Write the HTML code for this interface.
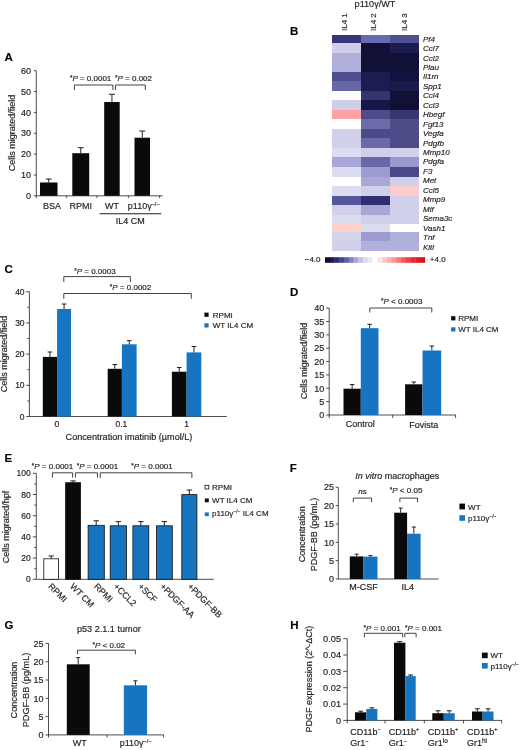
<!DOCTYPE html>
<html><head><meta charset="utf-8"><title>Figure</title>
<style>
html,body{margin:0;padding:0;background:#fff;}
svg{display:block;font-family:"Liberation Sans",Arial,Helvetica,sans-serif;fill:#231f20;}
text{stroke:#231f20;stroke-width:0.18px;}
</style></head><body>
<svg width="520" height="750" viewBox="0 0 520 750">
<rect x="0" y="0" width="520" height="750" fill="#ffffff"/>
<text x="4.50" y="60.50" font-size="11.5" font-weight="bold" fill="#000">A</text>
<line x1="36.30" y1="70.70" x2="36.30" y2="195.80" stroke="#231f20" stroke-width="0.8"/>
<line x1="33.90" y1="195.80" x2="36.30" y2="195.80" stroke="#231f20" stroke-width="0.8"/>
<text x="31.10" y="199.04" font-size="9" text-anchor="end">0</text>
<line x1="33.90" y1="174.95" x2="36.30" y2="174.95" stroke="#231f20" stroke-width="0.8"/>
<text x="31.10" y="178.19" font-size="9" text-anchor="end">10</text>
<line x1="33.90" y1="154.10" x2="36.30" y2="154.10" stroke="#231f20" stroke-width="0.8"/>
<text x="31.10" y="157.34" font-size="9" text-anchor="end">20</text>
<line x1="33.90" y1="133.25" x2="36.30" y2="133.25" stroke="#231f20" stroke-width="0.8"/>
<text x="31.10" y="136.49" font-size="9" text-anchor="end">30</text>
<line x1="33.90" y1="112.40" x2="36.30" y2="112.40" stroke="#231f20" stroke-width="0.8"/>
<text x="31.10" y="115.64" font-size="9" text-anchor="end">40</text>
<line x1="33.90" y1="91.55" x2="36.30" y2="91.55" stroke="#231f20" stroke-width="0.8"/>
<text x="31.10" y="94.79" font-size="9" text-anchor="end">50</text>
<line x1="33.90" y1="70.70" x2="36.30" y2="70.70" stroke="#231f20" stroke-width="0.8"/>
<text x="31.10" y="73.94" font-size="9" text-anchor="end">60</text>
<line x1="36.30" y1="195.80" x2="162.60" y2="195.80" stroke="#231f20" stroke-width="0.8"/>
<line x1="36.30" y1="195.80" x2="36.30" y2="198.10" stroke="#231f20" stroke-width="0.8"/>
<line x1="66.70" y1="195.80" x2="66.70" y2="198.10" stroke="#231f20" stroke-width="0.8"/>
<line x1="97.00" y1="195.80" x2="97.00" y2="198.10" stroke="#231f20" stroke-width="0.8"/>
<line x1="128.40" y1="195.80" x2="128.40" y2="198.10" stroke="#231f20" stroke-width="0.8"/>
<line x1="159.60" y1="195.80" x2="159.60" y2="198.10" stroke="#231f20" stroke-width="0.8"/>
<rect x="40.00" y="182.50" width="17.50" height="13.30" fill="#0a0a0a"/>
<line x1="48.75" y1="182.50" x2="48.75" y2="179.00" stroke="#0a0a0a" stroke-width="0.9"/>
<line x1="45.75" y1="179.00" x2="51.75" y2="179.00" stroke="#0a0a0a" stroke-width="0.9"/>
<rect x="72.30" y="153.20" width="16.90" height="42.60" fill="#0a0a0a"/>
<line x1="80.75" y1="153.20" x2="80.75" y2="147.70" stroke="#0a0a0a" stroke-width="0.9"/>
<line x1="77.75" y1="147.70" x2="83.75" y2="147.70" stroke="#0a0a0a" stroke-width="0.9"/>
<rect x="104.20" y="102.00" width="15.50" height="93.80" fill="#0a0a0a"/>
<line x1="111.95" y1="102.00" x2="111.95" y2="94.30" stroke="#0a0a0a" stroke-width="0.9"/>
<line x1="108.95" y1="94.30" x2="114.95" y2="94.30" stroke="#0a0a0a" stroke-width="0.9"/>
<rect x="134.50" y="137.70" width="15.50" height="58.10" fill="#0a0a0a"/>
<line x1="142.25" y1="137.70" x2="142.25" y2="131.00" stroke="#0a0a0a" stroke-width="0.9"/>
<line x1="139.25" y1="131.00" x2="145.25" y2="131.00" stroke="#0a0a0a" stroke-width="0.9"/>
<text x="15.20" y="133.00" font-size="9" text-anchor="middle" transform="rotate(-90 15.20 133.00)">Cells migrated/field</text>
<text x="52.00" y="208.50" font-size="9" text-anchor="middle">BSA</text>
<text x="80.80" y="208.50" font-size="9" text-anchor="middle">RPMI</text>
<text x="112.00" y="208.50" font-size="9" text-anchor="middle">WT</text>
<text x="127.80" y="208.50" font-size="9">p110γ<tspan font-size="5.5" dy="-3">−/−</tspan></text>
<line x1="99.60" y1="213.80" x2="161.30" y2="213.80" stroke="#231f20" stroke-width="1.1"/>
<text x="130.20" y="224.30" font-size="9" text-anchor="middle">IL4 CM</text>
<text x="69.90" y="80.50" font-size="8"><tspan font-size="6.4" dy="-1">*</tspan><tspan font-style="italic" dy="1">P</tspan> = 0.0001</text>
<text x="115.00" y="80.50" font-size="8"><tspan font-size="6.4" dy="-1">*</tspan><tspan font-style="italic" dy="1">P</tspan> = 0.002</text>
<polyline points="74.40,90.00 74.40,85.00 112.90,85.00 112.90,90.00" fill="none" stroke="#231f20" stroke-width="0.85"/>
<polyline points="115.40,90.00 115.40,85.00 145.30,85.00 145.30,90.00" fill="none" stroke="#231f20" stroke-width="0.85"/>
<text x="290.00" y="34.60" font-size="11.5" font-weight="bold" fill="#000">B</text>
<text x="375.00" y="7.20" font-size="9.1" text-anchor="middle">p110γ/WT</text>
<text x="346.50" y="31.00" font-size="8" transform="rotate(-90 346.50 31.00)">IL4 1</text>
<text x="375.50" y="31.00" font-size="8" transform="rotate(-90 375.50 31.00)">IL4 2</text>
<text x="407.00" y="31.00" font-size="8" transform="rotate(-90 407.00 31.00)">IL4 3</text>
<g shape-rendering="crispEdges">
<rect x="331.80" y="35.30" width="29.50" height="8.10" fill="#363678"/>
<rect x="361.00" y="35.30" width="29.50" height="8.10" fill="#6a6aae"/>
<rect x="390.20" y="35.30" width="29.10" height="8.10" fill="#50508e"/>
<rect x="331.80" y="43.10" width="29.50" height="9.83" fill="#cfcfec"/>
<rect x="361.00" y="43.10" width="29.50" height="9.83" fill="#111138"/>
<rect x="390.20" y="43.10" width="29.10" height="9.83" fill="#1c1c50"/>
<rect x="331.80" y="52.63" width="29.50" height="9.83" fill="#b0b0dc"/>
<rect x="361.00" y="52.63" width="29.50" height="9.83" fill="#111138"/>
<rect x="390.20" y="52.63" width="29.10" height="9.83" fill="#111138"/>
<rect x="331.80" y="62.16" width="29.50" height="9.83" fill="#b0b0dc"/>
<rect x="361.00" y="62.16" width="29.50" height="9.83" fill="#111138"/>
<rect x="390.20" y="62.16" width="29.10" height="9.83" fill="#111138"/>
<rect x="331.80" y="71.69" width="29.50" height="9.83" fill="#4e4e8c"/>
<rect x="361.00" y="71.69" width="29.50" height="9.83" fill="#1c1c50"/>
<rect x="390.20" y="71.69" width="29.10" height="9.83" fill="#121240"/>
<rect x="331.80" y="81.22" width="29.50" height="9.83" fill="#6868a8"/>
<rect x="361.00" y="81.22" width="29.50" height="9.83" fill="#1c1c50"/>
<rect x="390.20" y="81.22" width="29.10" height="9.83" fill="#1a1a4c"/>
<rect x="331.80" y="90.75" width="29.50" height="9.83" fill="#ffffff"/>
<rect x="361.00" y="90.75" width="29.50" height="9.83" fill="#34346e"/>
<rect x="390.20" y="90.75" width="29.10" height="9.83" fill="#121238"/>
<rect x="331.80" y="100.28" width="29.50" height="9.83" fill="#cfcfe8"/>
<rect x="361.00" y="100.28" width="29.50" height="9.83" fill="#181848"/>
<rect x="390.20" y="100.28" width="29.10" height="9.83" fill="#111138"/>
<rect x="331.80" y="109.81" width="29.50" height="9.83" fill="#ffa0a4"/>
<rect x="361.00" y="109.81" width="29.50" height="9.83" fill="#4c4c88"/>
<rect x="390.20" y="109.81" width="29.10" height="9.83" fill="#363670"/>
<rect x="331.80" y="119.34" width="29.50" height="9.83" fill="#ffffff"/>
<rect x="361.00" y="119.34" width="29.50" height="9.83" fill="#6c6cac"/>
<rect x="390.20" y="119.34" width="29.10" height="9.83" fill="#4c4c88"/>
<rect x="331.80" y="128.87" width="29.50" height="9.83" fill="#d0d0ea"/>
<rect x="361.00" y="128.87" width="29.50" height="9.83" fill="#4a4a88"/>
<rect x="390.20" y="128.87" width="29.10" height="9.83" fill="#4c4c88"/>
<rect x="331.80" y="138.40" width="29.50" height="9.83" fill="#d0d0ea"/>
<rect x="361.00" y="138.40" width="29.50" height="9.83" fill="#6a6aa8"/>
<rect x="390.20" y="138.40" width="29.10" height="9.83" fill="#4c4c88"/>
<rect x="331.80" y="147.93" width="29.50" height="9.83" fill="#dcdcf0"/>
<rect x="361.00" y="147.93" width="29.50" height="9.83" fill="#d0d0ea"/>
<rect x="390.20" y="147.93" width="29.10" height="9.83" fill="#d0d0ea"/>
<rect x="331.80" y="157.46" width="29.50" height="9.83" fill="#a8a8d8"/>
<rect x="361.00" y="157.46" width="29.50" height="9.83" fill="#6868a8"/>
<rect x="390.20" y="157.46" width="29.10" height="9.83" fill="#9898cc"/>
<rect x="331.80" y="166.99" width="29.50" height="9.83" fill="#dcdcf0"/>
<rect x="361.00" y="166.99" width="29.50" height="9.83" fill="#9c9cd0"/>
<rect x="390.20" y="166.99" width="29.10" height="9.83" fill="#4a4a88"/>
<rect x="331.80" y="176.52" width="29.50" height="9.83" fill="#ffffff"/>
<rect x="361.00" y="176.52" width="29.50" height="9.83" fill="#a8a8d4"/>
<rect x="390.20" y="176.52" width="29.10" height="9.83" fill="#d0d0ea"/>
<rect x="331.80" y="186.05" width="29.50" height="9.83" fill="#dcdcf0"/>
<rect x="361.00" y="186.05" width="29.50" height="9.83" fill="#d0d0ea"/>
<rect x="390.20" y="186.05" width="29.10" height="9.83" fill="#fccccc"/>
<rect x="331.80" y="195.58" width="29.50" height="9.83" fill="#55559a"/>
<rect x="361.00" y="195.58" width="29.50" height="9.83" fill="#2e2e70"/>
<rect x="390.20" y="195.58" width="29.10" height="9.83" fill="#d0d0ea"/>
<rect x="331.80" y="205.11" width="29.50" height="9.83" fill="#d0d0ea"/>
<rect x="361.00" y="205.11" width="29.50" height="9.83" fill="#a8a8d4"/>
<rect x="390.20" y="205.11" width="29.10" height="9.83" fill="#d0d0ea"/>
<rect x="331.80" y="214.64" width="29.50" height="9.83" fill="#dcdcf0"/>
<rect x="361.00" y="214.64" width="29.50" height="9.83" fill="#d0d0ea"/>
<rect x="390.20" y="214.64" width="29.10" height="9.83" fill="#d0d0ea"/>
<rect x="331.80" y="224.17" width="29.50" height="8.33" fill="#fdd0cc"/>
<rect x="361.00" y="224.17" width="29.50" height="8.33" fill="#dcdcf0"/>
<rect x="390.20" y="224.17" width="29.10" height="8.33" fill="#ffffff"/>
<rect x="331.80" y="232.20" width="29.50" height="9.40" fill="#d4d4ec"/>
<rect x="361.00" y="232.20" width="29.50" height="9.40" fill="#9c9cd0"/>
<rect x="390.20" y="232.20" width="29.10" height="9.40" fill="#b0b0dc"/>
<rect x="331.80" y="241.30" width="29.50" height="9.80" fill="#d0d0ea"/>
<rect x="361.00" y="241.30" width="29.50" height="9.80" fill="#b0b0dc"/>
<rect x="390.20" y="241.30" width="29.10" height="9.80" fill="#b0b0dc"/>
</g>
<text x="423.00" y="41.60" font-size="8" font-style="italic">Pf4</text>
<text x="423.00" y="51.05" font-size="8" font-style="italic">Ccl7</text>
<text x="423.00" y="60.50" font-size="8" font-style="italic">Ccl2</text>
<text x="423.00" y="69.95" font-size="8" font-style="italic">Plau</text>
<text x="423.00" y="79.40" font-size="8" font-style="italic">Il1rn</text>
<text x="423.00" y="88.85" font-size="8" font-style="italic">Spp1</text>
<text x="423.00" y="98.30" font-size="8" font-style="italic">Ccl4</text>
<text x="423.00" y="107.75" font-size="8" font-style="italic">Ccl3</text>
<text x="423.00" y="117.20" font-size="8" font-style="italic">Hbegf</text>
<text x="423.00" y="126.65" font-size="8" font-style="italic">Fgf13</text>
<text x="423.00" y="136.10" font-size="8" font-style="italic">Vegfa</text>
<text x="423.00" y="145.55" font-size="8" font-style="italic">Pdgfb</text>
<text x="423.00" y="155.00" font-size="8" font-style="italic">Mmp10</text>
<text x="423.00" y="164.45" font-size="8" font-style="italic">Pdgfa</text>
<text x="423.00" y="173.90" font-size="8" font-style="italic">F3</text>
<text x="423.00" y="183.35" font-size="8" font-style="italic">Met</text>
<text x="423.00" y="192.80" font-size="8" font-style="italic">Ccl5</text>
<text x="423.00" y="202.25" font-size="8" font-style="italic">Mmp9</text>
<text x="423.00" y="211.70" font-size="8" font-style="italic">Mif</text>
<text x="423.00" y="221.15" font-size="8" font-style="italic">Sema3c</text>
<text x="423.00" y="230.60" font-size="8" font-style="italic">Vash1</text>
<text x="423.00" y="240.05" font-size="8" font-style="italic">Tnf</text>
<text x="423.00" y="249.50" font-size="8" font-style="italic">Kitl</text>
<rect x="325.00" y="257.20" width="5.05" height="5.60" fill="#0e0e38"/>
<rect x="329.75" y="257.20" width="5.05" height="5.60" fill="#1c1c50"/>
<rect x="334.50" y="257.20" width="5.05" height="5.60" fill="#2e2e6a"/>
<rect x="339.26" y="257.20" width="5.05" height="5.60" fill="#454588"/>
<rect x="344.01" y="257.20" width="5.05" height="5.60" fill="#6060a4"/>
<rect x="348.76" y="257.20" width="5.05" height="5.60" fill="#8080c0"/>
<rect x="353.51" y="257.20" width="5.05" height="5.60" fill="#a4a4d6"/>
<rect x="358.27" y="257.20" width="5.05" height="5.60" fill="#c4c4e6"/>
<rect x="363.02" y="257.20" width="5.05" height="5.60" fill="#dadaf0"/>
<rect x="367.77" y="257.20" width="5.05" height="5.60" fill="#ececf8"/>
<rect x="372.52" y="257.20" width="5.05" height="5.60" fill="#ffffff"/>
<rect x="377.28" y="257.20" width="5.05" height="5.60" fill="#ffe4e4"/>
<rect x="382.03" y="257.20" width="5.05" height="5.60" fill="#ffcccc"/>
<rect x="386.78" y="257.20" width="5.05" height="5.60" fill="#ffb0b0"/>
<rect x="391.53" y="257.20" width="5.05" height="5.60" fill="#ff9494"/>
<rect x="396.29" y="257.20" width="5.05" height="5.60" fill="#fb7878"/>
<rect x="401.04" y="257.20" width="5.05" height="5.60" fill="#f65a5c"/>
<rect x="405.79" y="257.20" width="5.05" height="5.60" fill="#f04044"/>
<rect x="410.54" y="257.20" width="5.05" height="5.60" fill="#ea2a30"/>
<rect x="415.30" y="257.20" width="5.05" height="5.60" fill="#e4181e"/>
<rect x="420.05" y="257.20" width="5.05" height="5.60" fill="#e0101a"/>
<text x="320.50" y="262.00" font-size="8" text-anchor="end">−4.0</text>
<text x="429.80" y="262.00" font-size="8">+4.0</text>
<text x="4.50" y="273.00" font-size="11.5" font-weight="bold" fill="#000">C</text>
<line x1="29.40" y1="291.74" x2="29.40" y2="416.50" stroke="#231f20" stroke-width="0.8"/>
<line x1="26.20" y1="416.50" x2="29.40" y2="416.50" stroke="#231f20" stroke-width="0.8"/>
<text x="24.60" y="419.56" font-size="8.5" text-anchor="end">0</text>
<line x1="26.20" y1="385.31" x2="29.40" y2="385.31" stroke="#231f20" stroke-width="0.8"/>
<text x="24.60" y="388.37" font-size="8.5" text-anchor="end">10</text>
<line x1="26.20" y1="354.12" x2="29.40" y2="354.12" stroke="#231f20" stroke-width="0.8"/>
<text x="24.60" y="357.18" font-size="8.5" text-anchor="end">20</text>
<line x1="26.20" y1="322.93" x2="29.40" y2="322.93" stroke="#231f20" stroke-width="0.8"/>
<text x="24.60" y="325.99" font-size="8.5" text-anchor="end">30</text>
<line x1="26.20" y1="291.74" x2="29.40" y2="291.74" stroke="#231f20" stroke-width="0.8"/>
<text x="24.60" y="294.80" font-size="8.5" text-anchor="end">40</text>
<line x1="27.40" y1="400.90" x2="29.40" y2="400.90" stroke="#231f20" stroke-width="0.8"/>
<line x1="27.40" y1="369.71" x2="29.40" y2="369.71" stroke="#231f20" stroke-width="0.8"/>
<line x1="27.40" y1="338.52" x2="29.40" y2="338.52" stroke="#231f20" stroke-width="0.8"/>
<line x1="27.40" y1="307.33" x2="29.40" y2="307.33" stroke="#231f20" stroke-width="0.8"/>
<line x1="29.40" y1="416.50" x2="226.80" y2="416.50" stroke="#231f20" stroke-width="0.8"/>
<rect x="42.80" y="356.90" width="14.30" height="59.60" fill="#0a0a0a"/>
<rect x="57.10" y="309.00" width="13.90" height="107.50" fill="#1674c0"/>
<line x1="49.95" y1="356.90" x2="49.95" y2="352.00" stroke="#0a0a0a" stroke-width="0.9"/>
<line x1="47.65" y1="352.00" x2="52.25" y2="352.00" stroke="#0a0a0a" stroke-width="0.9"/>
<line x1="64.05" y1="309.00" x2="64.05" y2="304.00" stroke="#0a0a0a" stroke-width="0.9"/>
<line x1="61.75" y1="304.00" x2="66.35" y2="304.00" stroke="#0a0a0a" stroke-width="0.9"/>
<rect x="107.70" y="368.80" width="14.20" height="47.70" fill="#0a0a0a"/>
<rect x="121.90" y="344.30" width="14.70" height="72.20" fill="#1674c0"/>
<line x1="114.80" y1="368.80" x2="114.80" y2="364.50" stroke="#0a0a0a" stroke-width="0.9"/>
<line x1="112.50" y1="364.50" x2="117.10" y2="364.50" stroke="#0a0a0a" stroke-width="0.9"/>
<line x1="129.25" y1="344.30" x2="129.25" y2="340.60" stroke="#0a0a0a" stroke-width="0.9"/>
<line x1="126.95" y1="340.60" x2="131.55" y2="340.60" stroke="#0a0a0a" stroke-width="0.9"/>
<rect x="171.90" y="371.70" width="14.70" height="44.80" fill="#0a0a0a"/>
<rect x="186.60" y="352.40" width="14.70" height="64.10" fill="#1674c0"/>
<line x1="179.25" y1="371.70" x2="179.25" y2="367.50" stroke="#0a0a0a" stroke-width="0.9"/>
<line x1="176.95" y1="367.50" x2="181.55" y2="367.50" stroke="#0a0a0a" stroke-width="0.9"/>
<line x1="193.95" y1="352.40" x2="193.95" y2="346.50" stroke="#0a0a0a" stroke-width="0.9"/>
<line x1="191.65" y1="346.50" x2="196.25" y2="346.50" stroke="#0a0a0a" stroke-width="0.9"/>
<text x="7.20" y="354.00" font-size="9" text-anchor="middle" transform="rotate(-90 7.20 354.00)">Cells migrated/field</text>
<text x="56.80" y="427.40" font-size="8.5" text-anchor="middle">0</text>
<text x="121.40" y="427.40" font-size="8.5" text-anchor="middle">0.1</text>
<text x="186.60" y="427.40" font-size="8.5" text-anchor="middle">1</text>
<text x="129.00" y="440.30" font-size="9.12" text-anchor="middle">Concentration imatinib (µmol/L)</text>
<text x="74.20" y="273.50" font-size="8"><tspan font-size="6.4" dy="-1">*</tspan><tspan font-style="italic" dy="1">P</tspan> = 0.0003</text>
<text x="109.80" y="289.80" font-size="8"><tspan font-size="6.4" dy="-1">*</tspan><tspan font-style="italic" dy="1">P</tspan> = 0.0002</text>
<polyline points="63.80,282.00 63.80,276.60 130.40,276.60 130.40,282.00" fill="none" stroke="#231f20" stroke-width="0.85"/>
<polyline points="63.80,298.80 63.80,293.50 191.30,293.50 191.30,298.80" fill="none" stroke="#231f20" stroke-width="0.85"/>
<rect x="204.40" y="312.60" width="4.20" height="4.20" fill="#0a0a0a"/>
<rect x="204.40" y="323.30" width="4.20" height="4.20" fill="#1674c0"/>
<text x="212.80" y="317.80" font-size="8">RPMI</text>
<text x="212.80" y="328.30" font-size="8">WT IL4 CM</text>
<text x="290.00" y="295.50" font-size="11.5" font-weight="bold" fill="#000">D</text>
<line x1="329.20" y1="308.12" x2="329.20" y2="415.00" stroke="#231f20" stroke-width="0.8"/>
<line x1="326.20" y1="415.00" x2="329.20" y2="415.00" stroke="#231f20" stroke-width="0.8"/>
<text x="324.20" y="418.24" font-size="9" text-anchor="end">0</text>
<line x1="326.20" y1="401.64" x2="329.20" y2="401.64" stroke="#231f20" stroke-width="0.8"/>
<text x="324.20" y="404.88" font-size="9" text-anchor="end">5</text>
<line x1="326.20" y1="388.28" x2="329.20" y2="388.28" stroke="#231f20" stroke-width="0.8"/>
<text x="324.20" y="391.52" font-size="9" text-anchor="end">10</text>
<line x1="326.20" y1="374.92" x2="329.20" y2="374.92" stroke="#231f20" stroke-width="0.8"/>
<text x="324.20" y="378.16" font-size="9" text-anchor="end">15</text>
<line x1="326.20" y1="361.56" x2="329.20" y2="361.56" stroke="#231f20" stroke-width="0.8"/>
<text x="324.20" y="364.80" font-size="9" text-anchor="end">20</text>
<line x1="326.20" y1="348.20" x2="329.20" y2="348.20" stroke="#231f20" stroke-width="0.8"/>
<text x="324.20" y="351.44" font-size="9" text-anchor="end">25</text>
<line x1="326.20" y1="334.84" x2="329.20" y2="334.84" stroke="#231f20" stroke-width="0.8"/>
<text x="324.20" y="338.08" font-size="9" text-anchor="end">30</text>
<line x1="326.20" y1="321.48" x2="329.20" y2="321.48" stroke="#231f20" stroke-width="0.8"/>
<text x="324.20" y="324.72" font-size="9" text-anchor="end">35</text>
<line x1="326.20" y1="308.12" x2="329.20" y2="308.12" stroke="#231f20" stroke-width="0.8"/>
<text x="324.20" y="311.36" font-size="9" text-anchor="end">40</text>
<line x1="329.20" y1="415.00" x2="455.80" y2="415.00" stroke="#231f20" stroke-width="0.8"/>
<line x1="329.20" y1="415.00" x2="329.20" y2="418.00" stroke="#231f20" stroke-width="0.8"/>
<line x1="392.70" y1="415.00" x2="392.70" y2="418.00" stroke="#231f20" stroke-width="0.8"/>
<line x1="455.60" y1="415.00" x2="455.60" y2="418.00" stroke="#231f20" stroke-width="0.8"/>
<rect x="343.50" y="388.70" width="17.30" height="26.30" fill="#0a0a0a"/>
<rect x="360.80" y="328.20" width="17.70" height="86.80" fill="#1674c0"/>
<line x1="352.15" y1="388.70" x2="352.15" y2="384.50" stroke="#0a0a0a" stroke-width="0.9"/>
<line x1="349.85" y1="384.50" x2="354.45" y2="384.50" stroke="#0a0a0a" stroke-width="0.9"/>
<line x1="369.65" y1="328.20" x2="369.65" y2="324.30" stroke="#0a0a0a" stroke-width="0.9"/>
<line x1="367.35" y1="324.30" x2="371.95" y2="324.30" stroke="#0a0a0a" stroke-width="0.9"/>
<rect x="405.10" y="384.30" width="17.40" height="30.70" fill="#0a0a0a"/>
<rect x="422.50" y="350.50" width="18.70" height="64.50" fill="#1674c0"/>
<line x1="413.80" y1="384.30" x2="413.80" y2="382.00" stroke="#0a0a0a" stroke-width="0.9"/>
<line x1="411.50" y1="382.00" x2="416.10" y2="382.00" stroke="#0a0a0a" stroke-width="0.9"/>
<line x1="431.85" y1="350.50" x2="431.85" y2="346.00" stroke="#0a0a0a" stroke-width="0.9"/>
<line x1="429.55" y1="346.00" x2="434.15" y2="346.00" stroke="#0a0a0a" stroke-width="0.9"/>
<text x="307.30" y="361.00" font-size="9" text-anchor="middle" transform="rotate(-90 307.30 361.00)">Cells migrated/field</text>
<text x="360.30" y="427.00" font-size="9" text-anchor="middle">Control</text>
<text x="423.80" y="428.10" font-size="9" text-anchor="middle">Fovista</text>
<text x="381.00" y="304.20" font-size="8"><tspan font-size="6.4" dy="-1">*</tspan><tspan font-style="italic" dy="1">P</tspan> &lt; 0.0003</text>
<polyline points="369.80,312.50 369.80,308.00 431.80,308.00 431.80,312.50" fill="none" stroke="#231f20" stroke-width="0.85"/>
<rect x="451.10" y="316.20" width="4.30" height="4.20" fill="#0a0a0a"/>
<rect x="451.10" y="327.30" width="4.30" height="4.20" fill="#1674c0"/>
<text x="458.20" y="320.90" font-size="8">RPMI</text>
<text x="458.20" y="331.80" font-size="8">WT IL4 CM</text>
<text x="4.50" y="462.20" font-size="11.5" font-weight="bold" fill="#000">E</text>
<line x1="36.30" y1="473.30" x2="36.30" y2="579.30" stroke="#231f20" stroke-width="0.8"/>
<line x1="32.80" y1="579.30" x2="36.30" y2="579.30" stroke="#231f20" stroke-width="0.8"/>
<text x="30.80" y="582.36" font-size="8.5" text-anchor="end">0</text>
<line x1="32.80" y1="558.10" x2="36.30" y2="558.10" stroke="#231f20" stroke-width="0.8"/>
<text x="30.80" y="561.16" font-size="8.5" text-anchor="end">20</text>
<line x1="32.80" y1="536.90" x2="36.30" y2="536.90" stroke="#231f20" stroke-width="0.8"/>
<text x="30.80" y="539.96" font-size="8.5" text-anchor="end">40</text>
<line x1="32.80" y1="515.70" x2="36.30" y2="515.70" stroke="#231f20" stroke-width="0.8"/>
<text x="30.80" y="518.76" font-size="8.5" text-anchor="end">60</text>
<line x1="32.80" y1="494.50" x2="36.30" y2="494.50" stroke="#231f20" stroke-width="0.8"/>
<text x="30.80" y="497.56" font-size="8.5" text-anchor="end">80</text>
<line x1="32.80" y1="473.30" x2="36.30" y2="473.30" stroke="#231f20" stroke-width="0.8"/>
<text x="30.80" y="476.36" font-size="8.5" text-anchor="end">100</text>
<line x1="34.30" y1="568.70" x2="36.30" y2="568.70" stroke="#231f20" stroke-width="0.8"/>
<line x1="34.30" y1="547.50" x2="36.30" y2="547.50" stroke="#231f20" stroke-width="0.8"/>
<line x1="34.30" y1="526.30" x2="36.30" y2="526.30" stroke="#231f20" stroke-width="0.8"/>
<line x1="34.30" y1="505.10" x2="36.30" y2="505.10" stroke="#231f20" stroke-width="0.8"/>
<line x1="34.30" y1="483.90" x2="36.30" y2="483.90" stroke="#231f20" stroke-width="0.8"/>
<line x1="36.30" y1="579.30" x2="213.70" y2="579.30" stroke="#231f20" stroke-width="0.8"/>
<rect x="43.80" y="558.80" width="14.80" height="20.50" fill="#fff" stroke="#111" stroke-width="0.8"/>
<line x1="51.20" y1="558.80" x2="51.20" y2="556.00" stroke="#0a0a0a" stroke-width="0.9"/>
<line x1="48.50" y1="556.00" x2="53.90" y2="556.00" stroke="#0a0a0a" stroke-width="0.9"/>
<rect x="65.60" y="482.70" width="15.00" height="96.60" fill="#0a0a0a" stroke="#111" stroke-width="0.8"/>
<line x1="73.10" y1="482.70" x2="73.10" y2="480.90" stroke="#0a0a0a" stroke-width="0.9"/>
<line x1="70.40" y1="480.90" x2="75.80" y2="480.90" stroke="#0a0a0a" stroke-width="0.9"/>
<rect x="88.10" y="525.30" width="16.20" height="54.00" fill="#1674c0" stroke="#111" stroke-width="0.8"/>
<line x1="96.20" y1="525.30" x2="96.20" y2="520.80" stroke="#0a0a0a" stroke-width="0.9"/>
<line x1="93.50" y1="520.80" x2="98.90" y2="520.80" stroke="#0a0a0a" stroke-width="0.9"/>
<rect x="110.20" y="525.80" width="16.30" height="53.50" fill="#1674c0" stroke="#111" stroke-width="0.8"/>
<line x1="118.35" y1="525.80" x2="118.35" y2="521.60" stroke="#0a0a0a" stroke-width="0.9"/>
<line x1="115.65" y1="521.60" x2="121.05" y2="521.60" stroke="#0a0a0a" stroke-width="0.9"/>
<rect x="132.90" y="525.80" width="15.90" height="53.50" fill="#1674c0" stroke="#111" stroke-width="0.8"/>
<line x1="140.85" y1="525.80" x2="140.85" y2="521.60" stroke="#0a0a0a" stroke-width="0.9"/>
<line x1="138.15" y1="521.60" x2="143.55" y2="521.60" stroke="#0a0a0a" stroke-width="0.9"/>
<rect x="156.40" y="525.80" width="15.90" height="53.50" fill="#1674c0" stroke="#111" stroke-width="0.8"/>
<line x1="164.35" y1="525.80" x2="164.35" y2="521.60" stroke="#0a0a0a" stroke-width="0.9"/>
<line x1="161.65" y1="521.60" x2="167.05" y2="521.60" stroke="#0a0a0a" stroke-width="0.9"/>
<rect x="181.80" y="494.60" width="15.10" height="84.70" fill="#1674c0" stroke="#111" stroke-width="0.8"/>
<line x1="189.35" y1="494.60" x2="189.35" y2="490.00" stroke="#0a0a0a" stroke-width="0.9"/>
<line x1="186.65" y1="490.00" x2="192.05" y2="490.00" stroke="#0a0a0a" stroke-width="0.9"/>
<text x="8.50" y="527.00" font-size="9" text-anchor="middle" transform="rotate(-90 8.50 527.00)">Cells migrated/hpf</text>
<text x="47.80" y="587.00" font-size="8.85" transform="rotate(45 47.80 587.00)">RPMI</text>
<text x="69.50" y="587.00" font-size="8.85" transform="rotate(45 69.50 587.00)">WT CM</text>
<text x="93.60" y="587.00" font-size="8.85" transform="rotate(45 93.60 587.00)">RPMI</text>
<text x="113.00" y="587.00" font-size="8.85" transform="rotate(45 113.00 587.00)">+CCL2</text>
<text x="137.50" y="587.00" font-size="8.85" transform="rotate(45 137.50 587.00)">+SCF</text>
<text x="159.50" y="587.00" font-size="8.85" transform="rotate(45 159.50 587.00)">+PDGF-AA</text>
<text x="187.00" y="587.00" font-size="8.85" transform="rotate(45 187.00 587.00)">+PDGF-BB</text>
<text x="31.80" y="468.50" font-size="8"><tspan font-size="6.4" dy="-1">*</tspan><tspan font-style="italic" dy="1">P</tspan> = 0.0001</text>
<text x="76.70" y="468.50" font-size="8"><tspan font-size="6.4" dy="-1">*</tspan><tspan font-style="italic" dy="1">P</tspan> = 0.0001</text>
<text x="131.30" y="468.50" font-size="8"><tspan font-size="6.4" dy="-1">*</tspan><tspan font-style="italic" dy="1">P</tspan> = 0.0001</text>
<polyline points="52.40,477.60 52.40,472.80 72.60,472.80 72.60,477.60" fill="none" stroke="#231f20" stroke-width="0.85"/>
<polyline points="75.40,477.60 75.40,472.80 97.50,472.80 97.50,477.60" fill="none" stroke="#231f20" stroke-width="0.85"/>
<polyline points="100.20,478.00 100.20,472.80 191.90,472.80 191.90,478.00" fill="none" stroke="#231f20" stroke-width="0.85"/>
<rect x="205.00" y="485.30" width="3.80" height="3.70" fill="#fff" stroke="#111" stroke-width="0.8"/>
<rect x="204.80" y="498.50" width="4.00" height="3.80" fill="#0a0a0a"/>
<rect x="204.80" y="512.40" width="4.00" height="3.80" fill="#1674c0"/>
<text x="212.10" y="489.50" font-size="8">RPMI</text>
<text x="212.10" y="503.00" font-size="8">WT IL4 CM</text>
<text x="212.10" y="515.50" font-size="8">p110γ<tspan font-size="5" dy="-3">−/−</tspan><tspan dy="3"> IL4 CM</tspan></text>
<text x="289.80" y="472.00" font-size="11.5" font-weight="bold" fill="#000">F</text>
<line x1="338.30" y1="487.25" x2="338.30" y2="579.00" stroke="#231f20" stroke-width="0.8"/>
<line x1="335.70" y1="579.00" x2="338.30" y2="579.00" stroke="#231f20" stroke-width="0.8"/>
<text x="334.10" y="582.24" font-size="9" text-anchor="end">0</text>
<line x1="335.70" y1="560.65" x2="338.30" y2="560.65" stroke="#231f20" stroke-width="0.8"/>
<text x="334.10" y="563.89" font-size="9" text-anchor="end">5</text>
<line x1="335.70" y1="542.30" x2="338.30" y2="542.30" stroke="#231f20" stroke-width="0.8"/>
<text x="334.10" y="545.54" font-size="9" text-anchor="end">10</text>
<line x1="335.70" y1="523.95" x2="338.30" y2="523.95" stroke="#231f20" stroke-width="0.8"/>
<text x="334.10" y="527.19" font-size="9" text-anchor="end">15</text>
<line x1="335.70" y1="505.60" x2="338.30" y2="505.60" stroke="#231f20" stroke-width="0.8"/>
<text x="334.10" y="508.84" font-size="9" text-anchor="end">20</text>
<line x1="335.70" y1="487.25" x2="338.30" y2="487.25" stroke="#231f20" stroke-width="0.8"/>
<text x="334.10" y="490.49" font-size="9" text-anchor="end">25</text>
<line x1="338.30" y1="579.00" x2="438.70" y2="579.00" stroke="#231f20" stroke-width="0.8"/>
<rect x="349.80" y="556.40" width="13.70" height="22.60" fill="#0a0a0a"/>
<rect x="363.50" y="556.60" width="14.00" height="22.40" fill="#1674c0"/>
<line x1="356.65" y1="556.40" x2="356.65" y2="554.20" stroke="#0a0a0a" stroke-width="0.9"/>
<line x1="354.65" y1="554.20" x2="358.65" y2="554.20" stroke="#0a0a0a" stroke-width="0.9"/>
<line x1="370.50" y1="556.60" x2="370.50" y2="555.60" stroke="#0a0a0a" stroke-width="0.9"/>
<line x1="368.50" y1="555.60" x2="372.50" y2="555.60" stroke="#0a0a0a" stroke-width="0.9"/>
<rect x="394.20" y="512.70" width="12.90" height="66.30" fill="#0a0a0a"/>
<rect x="407.10" y="533.70" width="13.50" height="45.30" fill="#1674c0"/>
<line x1="400.65" y1="512.70" x2="400.65" y2="508.10" stroke="#0a0a0a" stroke-width="0.9"/>
<line x1="398.65" y1="508.10" x2="402.65" y2="508.10" stroke="#0a0a0a" stroke-width="0.9"/>
<line x1="413.85" y1="533.70" x2="413.85" y2="527.00" stroke="#0a0a0a" stroke-width="0.9"/>
<line x1="411.85" y1="527.00" x2="415.85" y2="527.00" stroke="#0a0a0a" stroke-width="0.9"/>
<text x="305.20" y="534.20" font-size="9" text-anchor="middle" transform="rotate(-90 305.20 534.20)">Concentration</text>
<text x="317.40" y="534.40" font-size="9" text-anchor="middle" transform="rotate(-90 317.40 534.40)">PDGF-BB (pg/mL)</text>
<text x="363.50" y="589.80" font-size="9" text-anchor="middle">M-CSF</text>
<text x="407.70" y="589.80" font-size="9" text-anchor="middle">IL4</text>
<text x="355.2" y="479.3" font-size="9"><tspan font-style="italic">In vitro</tspan> macrophages</text>
<text x="362.50" y="493.80" font-size="8" text-anchor="middle" font-style="italic">ns</text>
<text x="389.80" y="493.20" font-size="8"><tspan font-size="6.4" dy="-1">*</tspan><tspan font-style="italic" dy="1">P</tspan> &lt; 0.05</text>
<polyline points="353.30,502.20 353.30,498.10 371.60,498.10 371.60,502.20" fill="none" stroke="#231f20" stroke-width="0.85"/>
<polyline points="399.90,502.20 399.90,498.10 417.60,498.10 417.60,502.20" fill="none" stroke="#231f20" stroke-width="0.85"/>
<rect x="459.40" y="503.60" width="5.60" height="5.80" fill="#0a0a0a"/>
<rect x="459.40" y="515.20" width="5.60" height="5.60" fill="#1674c0"/>
<text x="468.10" y="509.50" font-size="8">WT</text>
<text x="468.10" y="521.00" font-size="8">p110γ<tspan font-size="5" dy="-3">−/−</tspan></text>
<text x="4.50" y="629.30" font-size="11.5" font-weight="bold" fill="#000">G</text>
<line x1="48.50" y1="643.40" x2="48.50" y2="734.90" stroke="#231f20" stroke-width="0.8"/>
<line x1="45.50" y1="734.90" x2="48.50" y2="734.90" stroke="#231f20" stroke-width="0.8"/>
<text x="43.50" y="738.14" font-size="9" text-anchor="end">0</text>
<line x1="45.50" y1="716.60" x2="48.50" y2="716.60" stroke="#231f20" stroke-width="0.8"/>
<text x="43.50" y="719.84" font-size="9" text-anchor="end">5</text>
<line x1="45.50" y1="698.30" x2="48.50" y2="698.30" stroke="#231f20" stroke-width="0.8"/>
<text x="43.50" y="701.54" font-size="9" text-anchor="end">10</text>
<line x1="45.50" y1="680.00" x2="48.50" y2="680.00" stroke="#231f20" stroke-width="0.8"/>
<text x="43.50" y="683.24" font-size="9" text-anchor="end">15</text>
<line x1="45.50" y1="661.70" x2="48.50" y2="661.70" stroke="#231f20" stroke-width="0.8"/>
<text x="43.50" y="664.94" font-size="9" text-anchor="end">20</text>
<line x1="45.50" y1="643.40" x2="48.50" y2="643.40" stroke="#231f20" stroke-width="0.8"/>
<text x="43.50" y="646.64" font-size="9" text-anchor="end">25</text>
<line x1="48.50" y1="734.90" x2="163.80" y2="734.90" stroke="#231f20" stroke-width="0.8"/>
<line x1="48.50" y1="734.90" x2="48.50" y2="737.50" stroke="#231f20" stroke-width="0.8"/>
<line x1="107.00" y1="734.90" x2="107.00" y2="737.50" stroke="#231f20" stroke-width="0.8"/>
<line x1="163.60" y1="734.90" x2="163.60" y2="737.50" stroke="#231f20" stroke-width="0.8"/>
<rect x="66.80" y="664.30" width="22.90" height="70.60" fill="#0a0a0a"/>
<line x1="78.20" y1="664.30" x2="78.20" y2="657.60" stroke="#0a0a0a" stroke-width="0.9"/>
<line x1="76.20" y1="657.60" x2="80.20" y2="657.60" stroke="#0a0a0a" stroke-width="0.9"/>
<rect x="123.80" y="685.30" width="23.30" height="49.60" fill="#1674c0"/>
<line x1="135.40" y1="685.30" x2="135.40" y2="680.80" stroke="#0a0a0a" stroke-width="0.9"/>
<line x1="133.40" y1="680.80" x2="137.40" y2="680.80" stroke="#0a0a0a" stroke-width="0.9"/>
<text x="17.20" y="690.00" font-size="9.15" text-anchor="middle" transform="rotate(-90 17.20 690.00)">Concentration</text>
<text x="28.60" y="690.00" font-size="9.15" text-anchor="middle" transform="rotate(-90 28.60 690.00)">PDGF-BB (pg/mL)</text>
<text x="79.80" y="746.20" font-size="9" text-anchor="middle">WT</text>
<text x="119.70" y="746.30" font-size="9">p110γ<tspan font-size="5.5" dy="-3">−/−</tspan></text>
<text x="76.90" y="632.40" font-size="9.15">p53 2.1.1 tumor</text>
<text x="92.50" y="647.80" font-size="8"><tspan font-size="6.4" dy="-1">*</tspan><tspan font-style="italic" dy="1">P</tspan> &lt; 0.02</text>
<polyline points="77.50,654.30 77.50,650.20 135.40,650.20 135.40,654.30" fill="none" stroke="#231f20" stroke-width="0.85"/>
<text x="290.30" y="629.30" font-size="11.5" font-weight="bold" fill="#000">H</text>
<line x1="347.20" y1="638.65" x2="347.20" y2="720.40" stroke="#231f20" stroke-width="0.8"/>
<line x1="343.20" y1="720.40" x2="347.20" y2="720.40" stroke="#231f20" stroke-width="0.8"/>
<text x="341.00" y="723.71" font-size="9.2" text-anchor="end">0</text>
<line x1="343.20" y1="704.05" x2="347.20" y2="704.05" stroke="#231f20" stroke-width="0.8"/>
<text x="341.00" y="707.36" font-size="9.2" text-anchor="end">0.01</text>
<line x1="343.20" y1="687.70" x2="347.20" y2="687.70" stroke="#231f20" stroke-width="0.8"/>
<text x="341.00" y="691.01" font-size="9.2" text-anchor="end">0.02</text>
<line x1="343.20" y1="671.35" x2="347.20" y2="671.35" stroke="#231f20" stroke-width="0.8"/>
<text x="341.00" y="674.66" font-size="9.2" text-anchor="end">0.03</text>
<line x1="343.20" y1="655.00" x2="347.20" y2="655.00" stroke="#231f20" stroke-width="0.8"/>
<text x="341.00" y="658.31" font-size="9.2" text-anchor="end">0.04</text>
<line x1="343.20" y1="638.65" x2="347.20" y2="638.65" stroke="#231f20" stroke-width="0.8"/>
<text x="341.00" y="641.96" font-size="9.2" text-anchor="end">0.05</text>
<line x1="347.20" y1="720.40" x2="501.80" y2="720.40" stroke="#231f20" stroke-width="0.8"/>
<line x1="347.20" y1="720.40" x2="347.20" y2="723.40" stroke="#231f20" stroke-width="0.8"/>
<line x1="385.00" y1="720.40" x2="385.00" y2="723.40" stroke="#231f20" stroke-width="0.8"/>
<line x1="424.30" y1="720.40" x2="424.30" y2="723.40" stroke="#231f20" stroke-width="0.8"/>
<line x1="463.50" y1="720.40" x2="463.50" y2="723.40" stroke="#231f20" stroke-width="0.8"/>
<line x1="501.60" y1="720.40" x2="501.60" y2="723.40" stroke="#231f20" stroke-width="0.8"/>
<rect x="355.00" y="712.30" width="11.30" height="8.10" fill="#0a0a0a"/>
<rect x="366.30" y="709.00" width="11.10" height="11.40" fill="#1674c0"/>
<line x1="360.65" y1="712.30" x2="360.65" y2="711.20" stroke="#0a0a0a" stroke-width="0.9"/>
<line x1="358.15" y1="711.20" x2="363.15" y2="711.20" stroke="#0a0a0a" stroke-width="0.9"/>
<line x1="371.85" y1="709.00" x2="371.85" y2="707.80" stroke="#0a0a0a" stroke-width="0.9"/>
<line x1="369.35" y1="707.80" x2="374.35" y2="707.80" stroke="#0a0a0a" stroke-width="0.9"/>
<rect x="394.00" y="642.70" width="11.40" height="77.70" fill="#0a0a0a"/>
<rect x="405.40" y="676.10" width="10.30" height="44.30" fill="#1674c0"/>
<line x1="399.70" y1="642.70" x2="399.70" y2="641.60" stroke="#0a0a0a" stroke-width="0.9"/>
<line x1="397.20" y1="641.60" x2="402.20" y2="641.60" stroke="#0a0a0a" stroke-width="0.9"/>
<line x1="410.55" y1="676.10" x2="410.55" y2="675.00" stroke="#0a0a0a" stroke-width="0.9"/>
<line x1="408.05" y1="675.00" x2="413.05" y2="675.00" stroke="#0a0a0a" stroke-width="0.9"/>
<rect x="432.30" y="713.20" width="11.50" height="7.20" fill="#0a0a0a"/>
<rect x="443.80" y="713.20" width="10.90" height="7.20" fill="#1674c0"/>
<line x1="438.05" y1="713.20" x2="438.05" y2="710.80" stroke="#0a0a0a" stroke-width="0.9"/>
<line x1="435.55" y1="710.80" x2="440.55" y2="710.80" stroke="#0a0a0a" stroke-width="0.9"/>
<line x1="449.25" y1="713.20" x2="449.25" y2="710.80" stroke="#0a0a0a" stroke-width="0.9"/>
<line x1="446.75" y1="710.80" x2="451.75" y2="710.80" stroke="#0a0a0a" stroke-width="0.9"/>
<rect x="472.00" y="711.50" width="10.60" height="8.90" fill="#0a0a0a"/>
<rect x="482.60" y="711.50" width="10.90" height="8.90" fill="#1674c0"/>
<line x1="477.30" y1="711.50" x2="477.30" y2="708.80" stroke="#0a0a0a" stroke-width="0.9"/>
<line x1="474.80" y1="708.80" x2="479.80" y2="708.80" stroke="#0a0a0a" stroke-width="0.9"/>
<line x1="488.05" y1="711.50" x2="488.05" y2="708.80" stroke="#0a0a0a" stroke-width="0.9"/>
<line x1="485.55" y1="708.80" x2="490.55" y2="708.80" stroke="#0a0a0a" stroke-width="0.9"/>
<text x="312.40" y="679.00" font-size="9" text-anchor="middle" transform="rotate(-90 312.40 679.00)">PDGF expression (2^-ΔCt)</text>
<text x="350.20" y="734.60" font-size="9">CD11b<tspan font-size="5.5" dy="-3.2">−</tspan></text>
<text x="350.20" y="745.80" font-size="9">Gr1<tspan font-size="5.5" dy="-3.2">−</tspan></text>
<text x="388.70" y="734.60" font-size="9">CD11b<tspan font-size="5.5" dy="-3.2">+</tspan></text>
<text x="388.70" y="745.80" font-size="9">Gr1<tspan font-size="5.5" dy="-3.2">−</tspan></text>
<text x="427.70" y="734.60" font-size="9">CD11b<tspan font-size="5.5" dy="-3.2">+</tspan></text>
<text x="427.70" y="745.80" font-size="9">Gr1<tspan font-size="6.5" dy="-3.2">lo</tspan></text>
<text x="466.90" y="734.60" font-size="9">CD11b<tspan font-size="5.5" dy="-3.2">+</tspan></text>
<text x="466.90" y="745.80" font-size="9">Gr1<tspan font-size="6.5" dy="-3.2">hi</tspan></text>
<text x="363.60" y="630.60" font-size="8"><tspan font-size="6.4" dy="-1">*</tspan><tspan font-style="italic" dy="1">P</tspan> = 0.001</text>
<text x="405.00" y="630.60" font-size="8"><tspan font-size="6.4" dy="-1">*</tspan><tspan font-style="italic" dy="1">P</tspan> = 0.001</text>
<polyline points="364.40,637.30 364.40,633.30 402.70,633.30 402.70,637.30" fill="none" stroke="#231f20" stroke-width="0.85"/>
<polyline points="404.80,637.30 404.80,633.30 416.10,633.30 416.10,637.30" fill="none" stroke="#231f20" stroke-width="0.85"/>
<rect x="481.90" y="652.60" width="5.80" height="5.60" fill="#0a0a0a"/>
<rect x="481.90" y="663.00" width="5.80" height="5.60" fill="#1674c0"/>
<text x="490.50" y="658.30" font-size="8">WT</text>
<text x="490.50" y="668.80" font-size="8">p110γ<tspan font-size="5" dy="-3">−/−</tspan></text>
</svg>
</body></html>
